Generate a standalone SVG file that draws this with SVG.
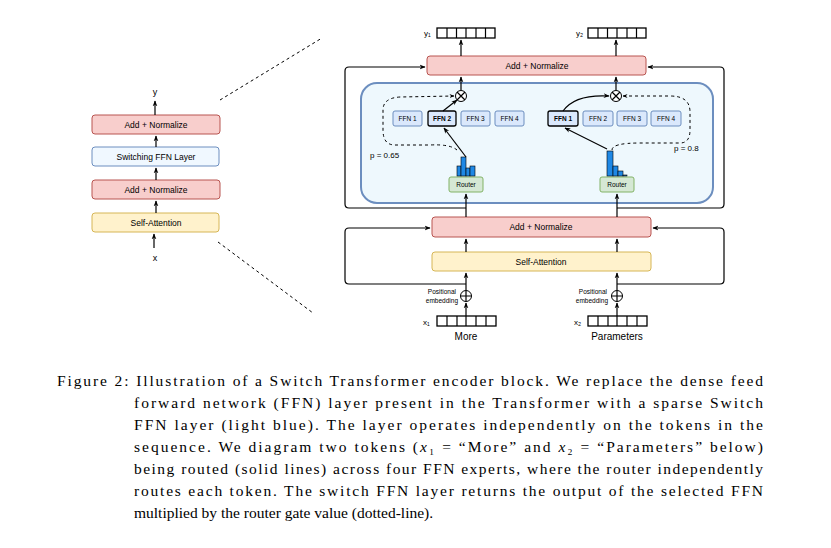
<svg xmlns="http://www.w3.org/2000/svg" width="831" height="548" viewBox="0 0 831 548">
<defs>
<marker id="ah" viewBox="0 0 10 10" refX="9" refY="5" markerWidth="5" markerHeight="5" orient="auto"><path d="M0,1 L10,5 L0,9 L3,5 z" fill="#000"/></marker>
<style>
text{font-family:"Liberation Sans",Arial,sans-serif;fill:#000}
.red{fill:#f8cecc;stroke:#b85450}
.yel{fill:#fff2cc;stroke:#d6b656}
.blu{fill:#dae8fc;stroke:#6c8ebf}
.grn{fill:#d5e8d4;stroke:#82b366}
.l{stroke:#000;stroke-width:1.2;fill:none}
.a{stroke:#000;stroke-width:1.2;fill:none;marker-end:url(#ah)}
.d{stroke:#000;stroke-width:1;fill:none;stroke-dasharray:3 3}
.da{stroke:#000;stroke-width:1;fill:none;stroke-dasharray:3 3;marker-end:url(#ah)}
.t8{font-size:8.5px;text-anchor:middle}
.t6{font-size:6.5px;text-anchor:middle}
.cap{font-family:"Liberation Serif","Times New Roman",serif;font-size:15.5px}
.cell{fill:#fff;stroke:#000;stroke-width:1.3}
.bar{fill:#1e88e5;stroke:#000;stroke-width:0.6}
</style>
</defs>
<rect width="831" height="548" fill="#fff"/>
<g id="left-stack">
<rect class="red" x="92" y="115" width="128" height="19" rx="3"/><text class="t8" x="156" y="128">Add + Normalize</text>
<rect x="92" y="147" width="127" height="19" rx="3" fill="#f0f8ff" stroke="#6c8ebf"/><text class="t8" x="156" y="160">Switching FFN Layer</text>
<rect class="red" x="92" y="180" width="128" height="19" rx="3"/><text class="t8" x="156" y="193">Add + Normalize</text>
<rect class="yel" x="92" y="213" width="127" height="19" rx="3"/><text class="t8" x="156" y="226">Self-Attention</text>
<text class="t8" x="155" y="95" style="font-size:9px">y</text>
<text class="t8" x="155" y="261" style="font-size:9px">x</text>
</g>
<g id="blue-layer"><rect x="361" y="83" width="352" height="120" rx="16" fill="#eef8fd" stroke="#6c8ebf" stroke-width="2"/></g>
<g id="top-norm"><rect class="red" x="427" y="56" width="219" height="19" rx="3"/><text class="t8" x="537" y="69">Add + Normalize</text></g>
<g id="bot-norm"><rect class="red" x="432" y="217" width="219" height="20" rx="3"/><text class="t8" x="541" y="230">Add + Normalize</text></g>
<g id="self-att"><rect class="yel" x="432" y="252" width="219" height="19" rx="3"/><text class="t8" x="541" y="265">Self-Attention</text></g>
<g id="ffn-left">
<rect class="blu" x="393" y="111" width="29" height="15" rx="2"/><text class="t6" x="407.5" y="121">FFN 1</text>
<rect x="428" y="111" width="28" height="15" rx="2" fill="#dae8fc" stroke="#000" stroke-width="1.3"/><text class="t6" x="442" y="121" font-weight="bold">FFN 2</text>
<rect class="blu" x="461" y="111" width="29" height="15" rx="2"/><text class="t6" x="475.5" y="121">FFN 3</text>
<rect class="blu" x="495" y="111" width="29" height="15" rx="2"/><text class="t6" x="509.5" y="121">FFN 4</text>
</g>
<g id="ffn-right">
<rect x="548" y="111" width="30" height="15" rx="2" fill="#dae8fc" stroke="#000" stroke-width="1.3"/><text class="t6" x="563" y="121" font-weight="bold">FFN 1</text>
<rect class="blu" x="583" y="111" width="30" height="15" rx="2"/><text class="t6" x="598" y="121">FFN 2</text>
<rect class="blu" x="617" y="111" width="30" height="15" rx="2"/><text class="t6" x="632" y="121">FFN 3</text>
<rect class="blu" x="651" y="111" width="30" height="15" rx="2"/><text class="t6" x="666" y="121">FFN 4</text>
</g>
<g id="routers">
<rect class="grn" x="449" y="177" width="34" height="15" rx="2"/><text class="t6" x="466" y="187">Router</text>
<rect class="grn" x="600" y="177" width="34" height="15" rx="2"/><text class="t6" x="617" y="187">Router</text>
</g>
<g id="hists">
<rect class="bar" x="457" y="166" width="4" height="10"/><rect class="bar" x="461" y="157" width="5" height="19"/><rect class="bar" x="466" y="168" width="4" height="8"/><rect class="bar" x="470" y="166" width="5" height="10"/>
<rect class="bar" x="607" y="151" width="6" height="25"/><rect class="bar" x="613" y="166" width="5" height="10"/><rect class="bar" x="618" y="171" width="5" height="5"/><rect class="bar" x="623" y="175" width="4" height="1"/>
</g>
<g id="mult">
<circle cx="461" cy="96" r="5.5" fill="#fff" stroke="#000"/><path class="l" d="M457,92 L465,100 M465,92 L457,100" stroke-width="1"/>
<circle cx="616" cy="96" r="5.5" fill="#fff" stroke="#000"/><path class="l" d="M612,92 L620,100 M620,92 L612,100" stroke-width="1"/>
</g>
<g id="plus">
<circle cx="466" cy="296" r="5.5" fill="#fff" stroke="#000"/><path class="l" d="M460.5,296 H471.5 M466,290.5 V301.5" stroke-width="1"/>
<circle cx="617" cy="296" r="5.5" fill="#fff" stroke="#000"/><path class="l" d="M611.5,296 H622.5 M617,290.5 V301.5" stroke-width="1"/>
</g>
<g id="vectors">
<text x="424" y="36" style="font-size:8px">y₁</text>
<text x="576" y="36" style="font-size:8px">y₂</text>
<text x="423" y="325" style="font-size:8px">x₁</text>
<text x="574" y="325" style="font-size:8px">x₂</text>
<rect class="cell" x="437" y="28" width="58" height="10"/><path class="l" d="M447,28v10M456.5,28v10M466,28v10M476,28v10M485.5,28v10"/>
<rect class="cell" x="588" y="28" width="58" height="10"/><path class="l" d="M598,28v10M607.5,28v10M617,28v10M627,28v10M636.5,28v10"/>
<rect class="cell" x="437" y="316" width="59" height="10"/><path class="l" d="M447,316v10M457,316v10M466,316v10M476,316v10M486,316v10"/>
<rect class="cell" x="588" y="316" width="59" height="10"/><path class="l" d="M598,316v10M608,316v10M617,316v10M627,316v10M637,316v10"/>
<text class="t8" x="466" y="340" style="font-size:10px">More</text>
<text class="t8" x="617" y="340" style="font-size:10px">Parameters</text>
<text x="456" y="294" style="font-size:6.5px;text-anchor:end">Positional</text>
<text x="458" y="303" style="font-size:6.5px;text-anchor:end">embedding</text>
<text x="607" y="294" style="font-size:6.5px;text-anchor:end">Positional</text>
<text x="608" y="303" style="font-size:6.5px;text-anchor:end">embedding</text>
<text x="370" y="158" style="font-size:8px">p = 0.65</text>
<text x="674" y="151" style="font-size:8px">p = 0.8</text>
</g>
<g id="connectors">
<path class="a" d="M154,248 V234"/><path class="a" d="M156,213 V201"/><path class="a" d="M156,180 V168"/><path class="a" d="M156,147 V136"/><path class="a" d="M155,115 V101"/>
<path class="d" d="M220,100 L322,38"/><path class="d" d="M218,242 L313,313"/>
<path class="a" d="M466,316 V303"/><path class="a" d="M617,316 V303"/>
<path class="a" d="M466,290 V273"/><path class="a" d="M617,290 V273"/>
<path class="a" d="M466,252 V239"/><path class="a" d="M617,252 V239"/>
<path class="a" d="M466,284 H349 Q345,284 345,280 V232 Q345,228 349,228 H430"/>
<path class="a" d="M617,284 H720 Q724,284 724,280 V232 Q724,228 720,228 H653"/>
<path class="a" d="M466,217 V194"/><path class="a" d="M617,217 V194"/>
<path class="a" d="M466,208 H349 Q345,208 345,204 V71 Q345,67 349,67 H425"/>
<path class="a" d="M617,208 H720 Q724,208 724,204 V71 Q724,67 720,67 H648"/>
<path class="a" d="M466,157 L444,128"/><path class="a" d="M443,111 L457,100"/>
<path class="a" d="M607,149 L565,128"/><path class="a" d="M563,111 Q575,94 609,96"/>
<path class="da" d="M457,150 Q450,144 430,145 H395 Q383,145 383,130 V110 Q383,98 400,97 L454,96"/>
<path class="da" d="M612,150 Q612,143 640,143 H680 Q690,143 690,130 V112 Q690,96 670,96 L623,96"/>
<path class="a" d="M461,90 V77"/><path class="a" d="M616,90 V77"/>
<path class="a" d="M461,56 V40"/><path class="a" d="M616,56 V40"/>
</g>
<g id="caption" class="cap">
<text class="cap" x="57" y="386" textLength="706" lengthAdjust="spacing">Figure 2: Illustration of a Switch Transformer encoder block.  We replace the dense feed</text>
<text class="cap" x="134" y="408" textLength="629" lengthAdjust="spacing">forward network (FFN) layer present in the Transformer with a sparse Switch</text>
<text class="cap" x="134" y="430" textLength="629" lengthAdjust="spacing">FFN layer (light blue).  The layer operates independently on the tokens in the</text>
<text class="cap" x="134" y="452" textLength="629" lengthAdjust="spacing">sequence. We diagram two tokens (<tspan font-style="italic">x</tspan>₁ = “More” and <tspan font-style="italic">x</tspan>₂ = “Parameters” below)</text>
<text class="cap" x="134" y="474" textLength="629" lengthAdjust="spacing">being routed (solid lines) across four FFN experts, where the router independently</text>
<text class="cap" x="134" y="496" textLength="629" lengthAdjust="spacing">routes each token. The switch FFN layer returns the output of the selected FFN</text>
<text class="cap" x="134" y="518">multiplied by the router gate value (dotted-line).</text>
</g>
</svg>
